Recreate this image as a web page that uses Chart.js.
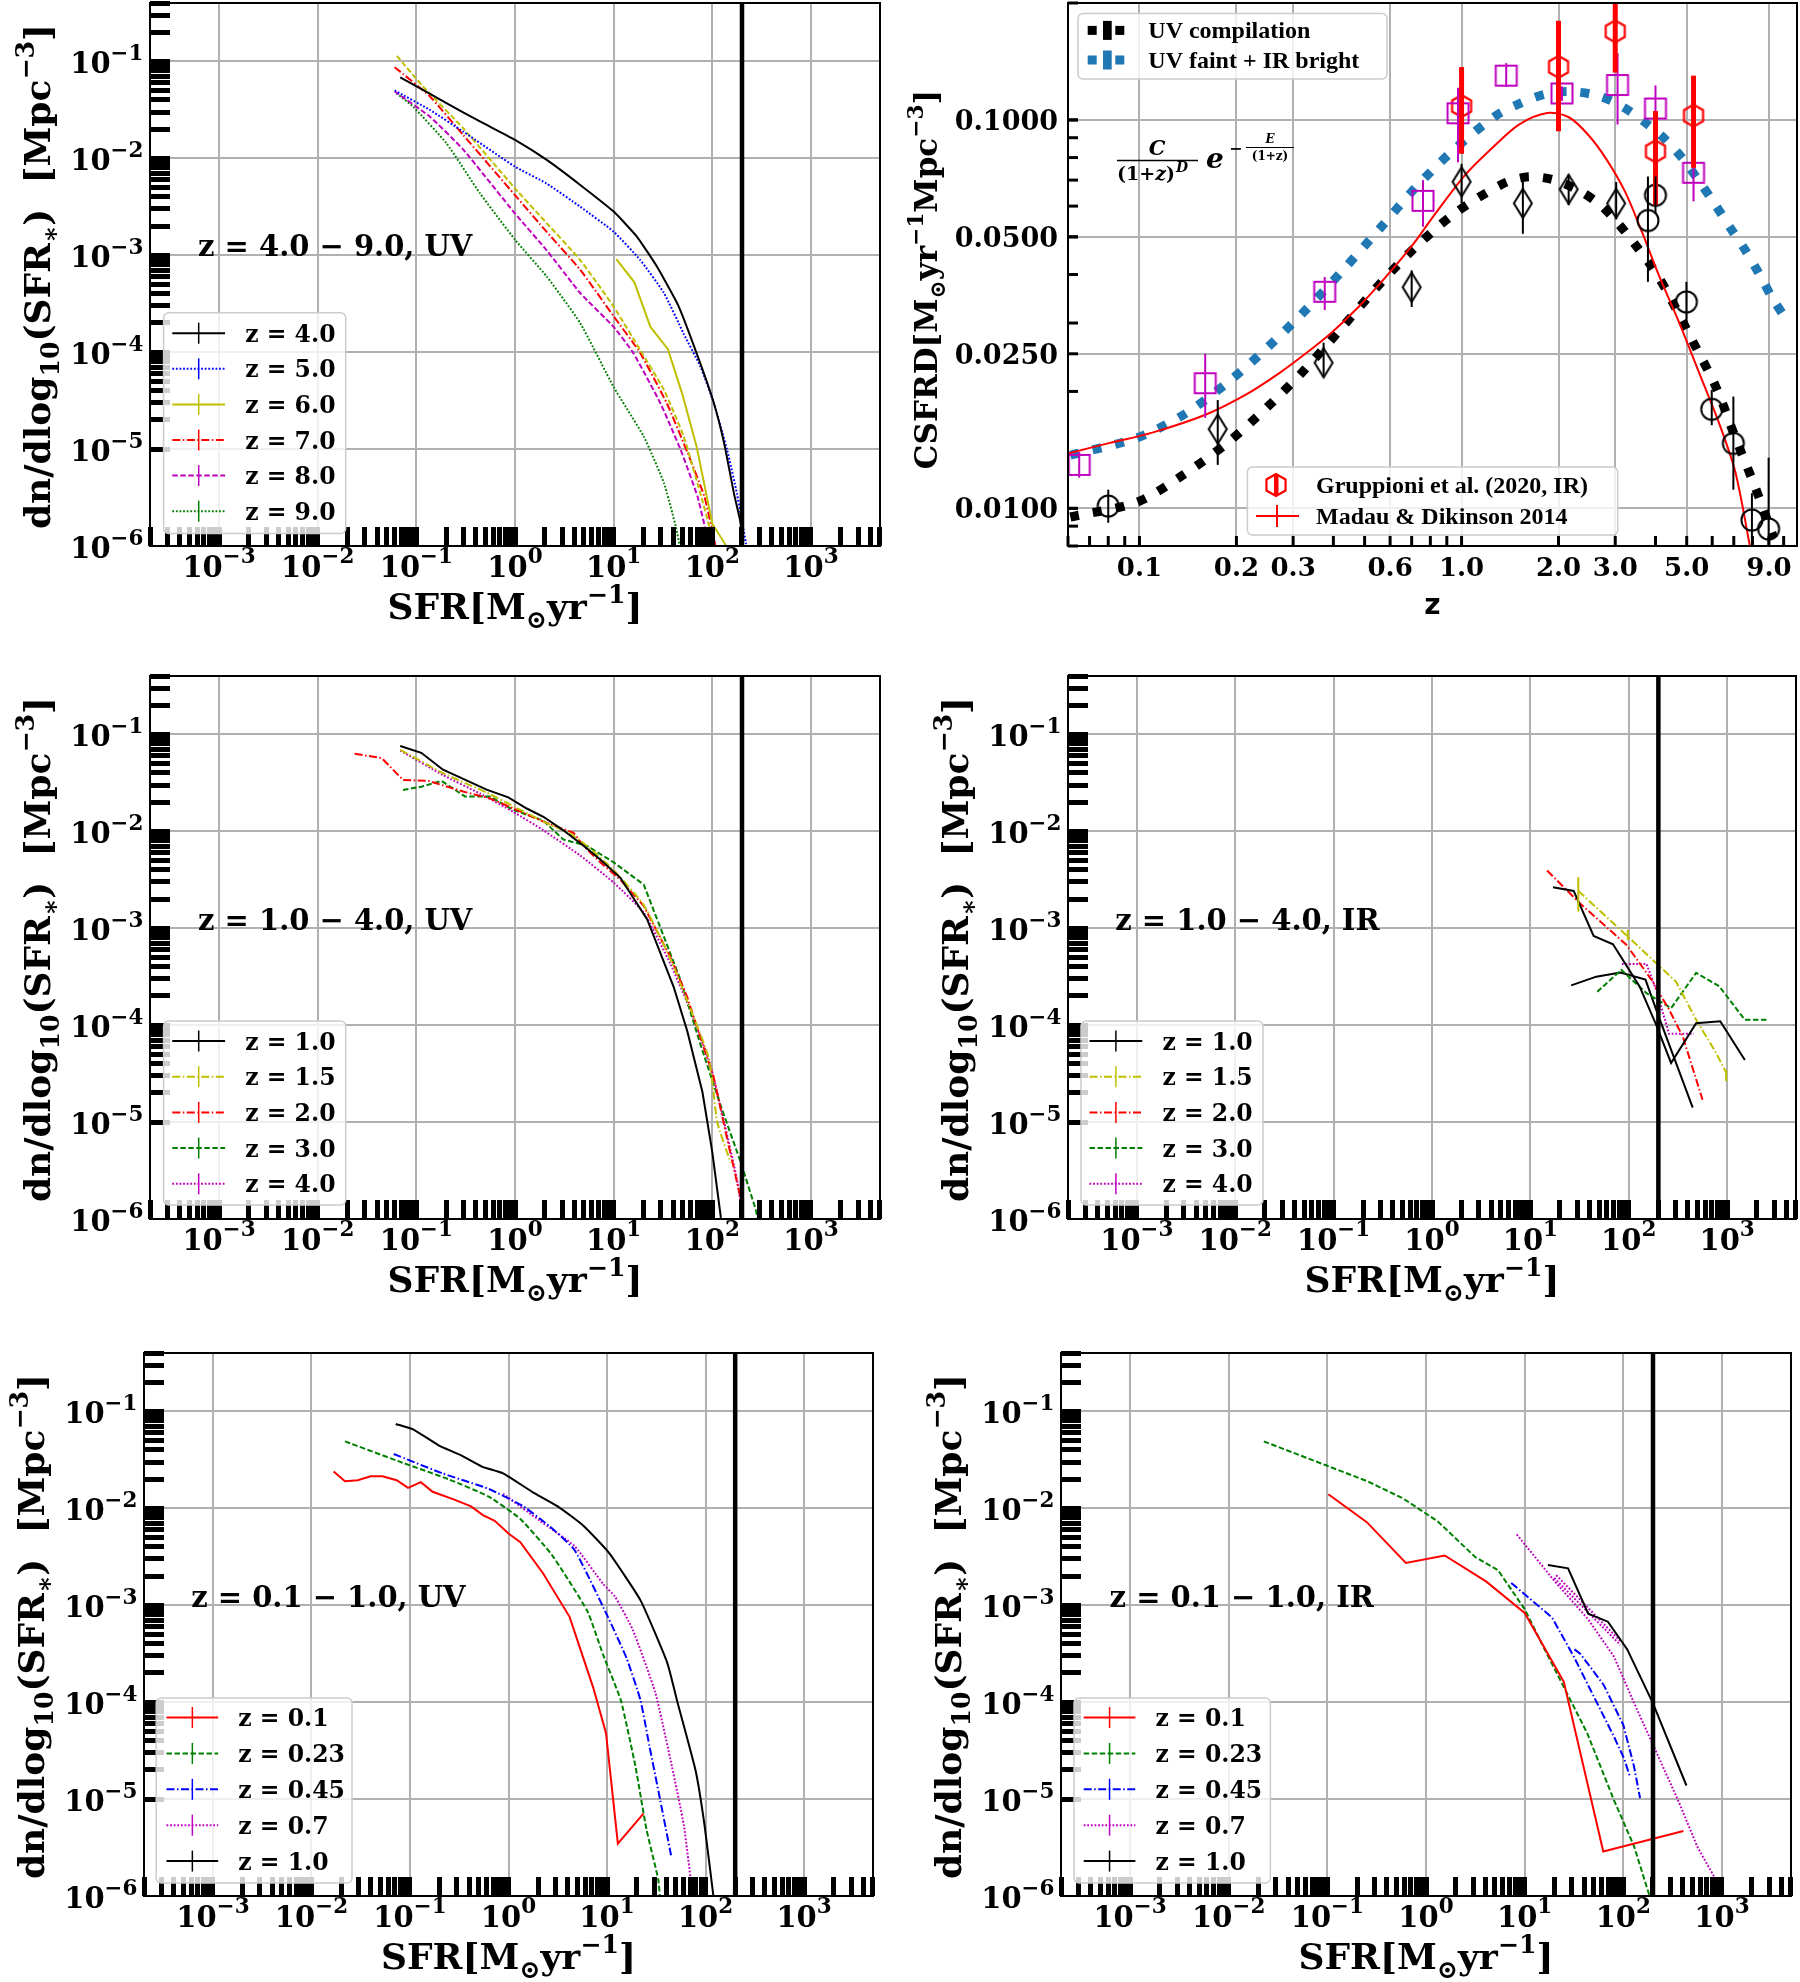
<!DOCTYPE html>
<html>
<head>
<meta charset="utf-8">
<title>SFR functions and cosmic SFR density</title>
<script src="https://cdn.jsdelivr.net/npm/chart.js@4.4.1/dist/chart.umd.min.js"></script>
<style>
  body { margin: 0; background: #fff; }
  #page { position: relative; width: 1800px; height: 1982px; overflow: hidden; background: #fff; }
  canvas { position: absolute; }
</style>
</head>
<body>
<div id="page">
  <canvas id="p1" width="900" height="660" style="left:0px;top:0px"></canvas>
  <canvas id="p2" width="900" height="660" style="left:900px;top:0px"></canvas>
  <canvas id="p3" width="900" height="660" style="left:0px;top:660px"></canvas>
  <canvas id="p4" width="900" height="660" style="left:900px;top:660px"></canvas>
  <canvas id="p5" width="900" height="662" style="left:0px;top:1320px"></canvas>
  <canvas id="p6" width="900" height="662" style="left:900px;top:1320px"></canvas>
</div>
<script>
// ---- SFR function panels: points as [log10 SFR, log10 dn/dlog10 SFR] ----
const sfrDecades = [-3, -2, -1, 0, 1, 2, 3];
const nDecades = [-6, -5, -4, -3, -2, -1];
const sfrCut = 200;

// z = 4.0 - 9.0, UV
const uvHigh_z4 = [[-1.163,-1.164],[-0.695,-1.43],[-0.356,-1.62],[0,-1.81],[0.322,-2.017],[0.661,-2.275],[1.0,-2.55],[1.237,-2.81],[1.44,-3.12],[1.66,-3.53],[1.88,-4.12],[2.017,-4.53],[2.12,-4.94],[2.22,-5.46],[2.295,-5.8],[2.32,-6.1]];
const uvHigh_z5 = [[-1.22,-1.3],[-0.864,-1.5],[-0.525,-1.725],[0,-2.086],[0.32,-2.26],[0.661,-2.5],[1.0,-2.757],[1.27,-3.05],[1.51,-3.39],[1.71,-3.81],[1.88,-4.15],[2.017,-4.53],[2.15,-5.01],[2.25,-5.46],[2.34,-5.97],[2.35,-6.1]];
const uvHigh_z6 = [[1.027,-3.04],[1.21,-3.28],[1.373,-3.74],[1.55,-3.97],[1.695,-4.43],[1.84,-4.97],[2.0,-5.77],[2.136,-5.99],[2.16,-6.1]];
const uvHigh_z6b = [[-1.197,-0.944],[-0.932,-1.26],[-0.525,-1.69],[0,-2.31],[0.322,-2.67],[0.661,-3.05],[1.0,-3.53],[1.27,-3.98],[1.51,-4.39],[1.71,-4.87],[1.88,-5.46],[1.97,-5.8],[2.02,-6.05]];
const uvHigh_z7 = [[-1.22,-1.06],[-0.864,-1.36],[-0.525,-1.76],[0,-2.38],[0.322,-2.76],[0.661,-3.15],[1.0,-3.63],[1.27,-4.01],[1.54,-4.53],[1.75,-5.04],[1.92,-5.49],[2.02,-5.94],[2.04,-6.05]];
const uvHigh_z8 = [[-1.22,-1.31],[-0.864,-1.57],[-0.525,-1.91],[0,-2.57],[0.322,-2.95],[0.661,-3.39],[1.0,-3.74],[1.2,-4.01],[1.475,-4.53],[1.68,-5.01],[1.85,-5.49],[1.97,-6.0],[1.98,-6.05]];
const uvHigh_z9 = [[-1.2,-1.33],[-1.03,-1.47],[-0.695,-1.845],[-0.356,-2.36],[0,-2.84],[0.322,-3.22],[0.661,-3.7],[1.0,-4.36],[1.305,-4.87],[1.51,-5.35],[1.63,-5.8],[1.68,-6.05]];

// z = 1.0 - 4.0, UV
const uvMid_z10 = [[-1.163,-1.12],[-0.95,-1.19],[-0.73,-1.365],[-0.525,-1.46],[-0.288,-1.57],[-0.068,-1.65],[0.119,-1.765],[0.288,-1.85],[0.49,-1.99],[0.695,-2.15],[0.864,-2.29],[1.068,-2.48],[1.34,-2.91],[1.61,-3.61],[1.746,-4.06],[1.9,-4.69],[2.0,-5.31],[2.085,-5.97],[2.09,-6.05]];
const uvMid_z15 = [[-1.163,-1.16],[-0.73,-1.4],[-0.288,-1.6],[0,-1.75],[0.288,-1.9],[0.55,-2.02],[0.73,-2.15],[1.0,-2.4],[1.305,-2.76],[1.576,-3.32],[1.746,-3.75],[1.966,-4.34],[2.05,-5.0],[2.186,-5.42]];
const uvMid_z20 = [[-1.625,-1.2],[-1.351,-1.245],[-1.135,-1.47],[-0.88,-1.48],[-0.525,-1.59],[-0.254,-1.66],[-0.017,-1.765],[0.288,-1.9],[0.593,-2.016],[0.695,-2.15],[0.864,-2.32],[1.068,-2.5],[1.305,-2.77],[1.576,-3.3],[1.746,-3.71],[1.88,-4.13],[2.017,-4.55],[2.15,-5.17],[2.29,-5.8],[2.315,-6.05]];
const uvMid_z30 = [[-1.135,-1.574],[-0.95,-1.54],[-0.746,-1.48],[-0.508,-1.64],[-0.254,-1.64],[-0.017,-1.78],[0.288,-1.89],[0.49,-2.085],[0.73,-2.15],[1.0,-2.32],[1.305,-2.55],[1.51,-3.09],[1.68,-3.54],[1.88,-4.2],[2.085,-4.83],[2.29,-5.42],[2.44,-5.9],[2.47,-6.05]];
const uvMid_z40 = [[-1.163,-1.167],[-0.73,-1.42],[-0.356,-1.61],[-0.017,-1.8],[0.288,-1.99],[0.661,-2.25],[1.0,-2.53],[1.305,-2.84],[1.576,-3.37],[1.78,-3.85],[1.98,-4.41],[2.12,-5.0],[2.25,-5.59],[2.305,-5.97],[2.31,-6.05]];

// z = 1.0 - 4.0, IR
const irMid_z10a = [[1.23,-2.577],[1.44,-2.615],[1.643,-3.08],[1.84,-3.165],[2.11,-3.6],[2.28,-4.0],[2.43,-4.39],[2.685,-3.98],[2.93,-3.96],[3.18,-4.36]];
const irMid_z10b = [[1.415,-3.59],[1.67,-3.5],[1.915,-3.456],[2.17,-3.53],[2.3,-3.9],[2.65,-4.85]];
const irMid_z15 = [[1.487,-2.615],[1.99,-3.086],[2.296,-3.378],[2.48,-3.55],[2.685,-3.945],[2.89,-4.29],[2.99,-4.49]];
const irMid_z15_lo = [-2.828,-3.12,null,null,null,null,-4.58];
const irMid_z15_hi = [-2.474,-3.017,null,null,null,null,-4.46];
const irMid_z20 = [[1.17,-2.405],[1.5,-2.74],[1.975,-3.17],[2.23,-3.53],[2.41,-3.84],[2.55,-4.12],[2.75,-4.77]];
const irMid_z30 = [[1.68,-3.656],[1.924,-3.43],[2.18,-3.67],[2.43,-3.825],[2.685,-3.46],[2.92,-3.6],[3.18,-3.945],[3.41,-3.945]];
const irMid_z40 = [[1.93,-3.368],[2.18,-3.368],[2.28,-3.64],[2.41,-4.09],[2.66,-4.09]];

// z = 0.1 - 1.0, UV
const uvLow_z01 = [[-1.775,-1.62],[-1.66,-1.72],[-1.53,-1.71],[-1.4,-1.67],[-1.28,-1.67],[-1.135,-1.71],[-1.02,-1.79],[-0.89,-1.73],[-0.77,-1.83],[-0.55,-1.91],[-0.38,-1.98],[-0.26,-2.07],[-0.14,-2.13],[0,-2.26],[0.12,-2.35],[0.35,-2.67],[0.62,-3.12],[0.86,-3.85],[0.99,-4.32],[1.11,-5.46],[1.37,-5.15]];
const uvLow_z023 = [[-1.66,-1.31],[-1.075,-1.53],[-0.61,-1.7],[-0.2,-1.88],[0.12,-2.11],[0.44,-2.48],[0.8,-3.06],[0.96,-3.51],[1.14,-3.98],[1.29,-4.67],[1.4,-5.31],[1.52,-5.83],[1.54,-6.05]];
const uvLow_z045 = [[-1.165,-1.44],[-0.67,-1.64],[-0.2,-1.8],[0.15,-1.98],[0.41,-2.18],[0.67,-2.43],[0.99,-3.08],[1.2,-3.55],[1.34,-3.98],[1.43,-4.45],[1.54,-5.01],[1.65,-5.58]];
const uvLow_z07 = [[-0.055,-1.85],[0.32,-2.13],[0.67,-2.39],[0.96,-2.78],[1.08,-2.91],[1.26,-3.25],[1.49,-3.9],[1.66,-4.67],[1.78,-5.27],[1.87,-6.0],[1.88,-6.05]];
const uvLow_z10 = [[-1.145,-1.13],[-0.96,-1.19],[-0.71,-1.35],[-0.49,-1.45],[-0.27,-1.57],[-0.055,-1.64],[0.24,-1.83],[0.5,-1.98],[0.76,-2.18],[1.02,-2.46],[1.34,-2.95],[1.61,-3.59],[1.72,-4.02],[1.9,-4.71],[1.99,-5.27],[2.08,-6.0],[2.09,-6.05]];

// z = 0.1 - 1.0, IR
const irLow_z01 = [[-0.99,-1.855],[-0.6,-2.143],[-0.204,-2.564],[0.19,-2.487],[0.612,-2.757],[1.0,-3.08],[1.397,-3.79],[1.797,-5.54],[2.61,-5.33]];
const irLow_z023 = [[-1.644,-1.31],[-1.02,-1.554],[-0.583,-1.726],[-0.233,-1.898],[0.117,-2.134],[0.496,-2.5],[0.729,-2.637],[1.0,-3.04],[1.19,-3.43],[1.43,-3.91],[1.634,-4.32],[1.905,-5.01],[2.11,-5.49],[2.26,-5.98],[2.27,-6.05]];
const irLow_z045a = [[0.864,-2.77],[1.278,-3.127],[1.498,-3.53],[1.7,-3.94],[1.905,-4.355],[2.007,-4.58],[2.068,-4.77]];
const irLow_z045b = [[1.505,-3.456],[1.566,-3.504],[1.8,-3.82],[2.0,-4.235],[2.108,-4.66],[2.17,-4.99]];
const irLow_z07 = [[0.92,-2.27],[1.31,-2.76],[1.64,-3.14],[1.905,-3.53],[2.11,-4.01],[2.31,-4.46],[2.55,-5.0],[2.75,-5.49],[2.92,-5.8]];
const irLow_z07b = [[1.3,-2.72],[1.97,-3.41]];
const irLow_z07c = [[1.32,-2.69],[1.98,-3.38]];
const irLow_z10 = [[1.236,-2.585],[1.44,-2.62],[1.644,-3.088],[1.844,-3.17],[2.04,-3.456],[2.3,-4.01],[2.64,-4.86]];

// ---- cosmic SFR density panel (z, CSFRD in Msun/yr/Mpc^3) ----
const zTicks = [0.1, 0.2, 0.3, 0.6, 1.0, 2.0, 3.0, 5.0, 9.0];
const zTickLabels = ['0.1', '0.2', '0.3', '0.6', '1.0', '2.0', '3.0', '5.0', '9.0'];
const rateTicks = [0.01, 0.025, 0.05, 0.1];
const rateTickLabels = ['0.0100', '0.0250', '0.0500', '0.1000'];

const uvCompZ = [0.061, 0.0984, 0.1361, 0.187, 0.2489, 0.3258, 0.4227, 0.5458, 0.7096, 0.9528, 1.33, 1.589, 1.91, 2.307, 2.698, 3.09, 3.475, 3.9, 4.315, 5.188, 6.166, 7.08, 8.17, 9.31];
const uvCompRate = [0.0095, 0.01038, 0.01216, 0.01472, 0.0182, 0.02275, 0.02904, 0.03707, 0.04656, 0.0575, 0.0682, 0.0713, 0.0703, 0.0659, 0.0604, 0.0537, 0.0475, 0.0418, 0.0365, 0.0272, 0.0205, 0.0152, 0.0113, 0.0084];
const uvIrZ = [0.061, 0.0984, 0.1371, 0.1879, 0.2518, 0.3327, 0.4335, 0.5585, 0.7211, 0.9462, 1.279, 1.524, 1.811, 2.163, 2.667, 3.206, 3.707, 4.276, 4.864, 5.47, 6.166, 6.823, 7.6, 8.356, 9.183, 10.3];
const uvIrRate = [0.0137, 0.0152, 0.01742, 0.02109, 0.02612, 0.0328, 0.0415, 0.0526, 0.0671, 0.0838, 0.1026, 0.1104, 0.1164, 0.1183, 0.1153, 0.1074, 0.0986, 0.0893, 0.0794, 0.0695, 0.0601, 0.0528, 0.0462, 0.0404, 0.035, 0.0302];
const mdZ = [0.0604, 0.0804, 0.1096, 0.1603, 0.2133, 0.2704, 0.3273, 0.3954, 0.4786, 0.5794, 0.6998, 0.8279, 1.028, 1.245, 1.507, 1.845, 2.153, 2.483, 2.831, 3.228, 3.631, 4.093, 4.721, 5.445, 6.281, 7.079, 7.9];
const mdRate = [0.01387, 0.01472, 0.01567, 0.01742, 0.01959, 0.02223, 0.025, 0.02838, 0.033, 0.03926, 0.0473, 0.0573, 0.0723, 0.0847, 0.0973, 0.1042, 0.1016, 0.0912, 0.0787, 0.065, 0.0515, 0.0399, 0.0303, 0.0225, 0.0167, 0.0124, 0.0078];

const sqZ = [0.065, 0.16, 0.376, 0.759, 0.975, 1.376, 2.05, 3.05, 4.0, 5.25];
const sqRate = [0.01294, 0.021, 0.0361, 0.0619, 0.104, 0.13, 0.117, 0.123, 0.107, 0.0731];
const sqLo = [0.012, 0.0171, 0.0324, 0.0531, 0.0778, 0.1216, 0.112, 0.0973, 0.0962, 0.0617];
const sqHi = [0.01396, 0.025, 0.0394, 0.07, 0.121, 0.14, 0.122, 0.1486, 0.1227, 0.0893];
const grZ = [1.0, 2.0, 3.0, 4.0, 5.25];
const grRate = [0.1086, 0.137, 0.169, 0.083, 0.1026];
const grLo = [0.0818, 0.0935, 0.1324, 0.0604, 0.0753];
const grHi = [0.1368, 0.18, 0.25, 0.1054, 0.13];
const dmZ = [0.175, 0.373, 0.7, 1.0, 1.55, 2.15, 3.02];
const dmRate = [0.016, 0.0237, 0.0371, 0.0693, 0.061, 0.0663, 0.061];
const dmLo = [0.01294, 0.0218, 0.033, 0.061, 0.0509, 0.0604, 0.0555];
const dmHi = [0.019, 0.0267, 0.041, 0.0771, 0.0692, 0.0723, 0.0692];
const ciZ = [0.08, 3.79, 4.0, 4.99, 5.98, 6.98, 7.97, 8.98];
const ciRate = [0.01014, 0.0551, 0.064, 0.034, 0.018, 0.0147, 0.00933, 0.00885];
const ciLo = [0.00918, 0.0383, 0.0573, 0.0293, 0.01637, 0.01117, 0.00794, 0.007];
const ciHi = [0.01117, 0.0715, 0.0715, 0.0383, 0.0202, 0.0194, 0.01094, 0.0135];

// ---- text ----
const sfrTitle = [['SFR[M', 0], ['\u2299', -1], ['yr', 0], ['\u22121', 1], [']', 0]];
const nTitle = [['dn/dlog', 0], ['10', -1], ['(SFR', 0], ['\u2217', -1], [')  [Mpc', 0], ['\u22123', 1], [']', 0]];
const rateTitle = [['CSFRD[M', 0], ['\u2299', -1], ['yr', 0], ['\u22121', 1], ['Mpc', 0], ['\u22123', 1], [']', 0]];

const K = '#000000', B = '#0000ff', Y = '#bfbf00', R = '#ff0000', M = '#bf00bf', G = '#008000', TAB = '#1f77b4';
const SOLID = [], DOTTED = [1.8, 1.8], DASHED = [5.5, 2.5], DASHDOT = [8, 2.5, 1.5, 2.5];
const SERIF = '"DejaVu Serif"';

function font(size, style) {
    return (style || 'bold') + ' ' + size + 'px ' + SERIF;
}

function fromLog(arr) {
    return arr.map(([lx, ly]) => ({ x: 10 ** lx, y: 10 ** ly }));
}

function xy(xs, ys) {
    return xs.map((x, i) => ({ x: x, y: ys[i] }));
}

function seg(ctx, x0, y0, x1, y1) {
    ctx.beginPath();
    ctx.moveTo(x0, y0);
    ctx.lineTo(x1, y1);
    ctx.stroke();
}

// text with super/subscripts, pos: 1 sup, -1 sub
function rich(ctx, parts, size, x, y, align, angle, small) {
    const k = small || 0.7;
    const runs = parts.map(([text, pos]) => {
        const s = pos ? size * k : size;
        ctx.font = font(s);
        return { text: text, s: s, w: ctx.measureText(text).width, dy: pos > 0 ? -size * 0.45 : pos < 0 ? size * 0.25 : 0 };
    });
    const total = runs.reduce((t, r) => t + r.w, 0);
    ctx.save();
    ctx.translate(x, y);
    if (angle) ctx.rotate(angle);
    ctx.textAlign = 'left';
    ctx.textBaseline = 'alphabetic';
    ctx.fillStyle = '#000';
    let cx = align === 'center' ? -total / 2 : align === 'right' ? -total : 0;
    runs.forEach(r => {
        ctx.font = font(r.s);
        ctx.fillText(r.text, cx, r.dy);
        cx += r.w;
    });
    ctx.restore();
}

function legendBox(ctx, [x0, y0, x1, y1]) {
    const r = 5;
    ctx.beginPath();
    ctx.moveTo(x0 + r, y0);
    ctx.arcTo(x1, y0, x1, y1, r);
    ctx.arcTo(x1, y1, x0, y1, r);
    ctx.arcTo(x0, y1, x0, y0, r);
    ctx.arcTo(x0, y0, x1, y0, r);
    ctx.closePath();
    ctx.fillStyle = 'rgba(255,255,255,0.8)';
    ctx.fill();
    ctx.strokeStyle = '#cccccc';
    ctx.lineWidth = 1.5;
    ctx.stroke();
}

function markerCanvas(w, h, paint) {
    const c = document.createElement('canvas');
    c.width = w;
    c.height = h;
    paint(c.getContext('2d'), w / 2, h / 2);
    return c;
}

const hexMark = markerCanvas(26, 28, (g, cx, cy) => {
    g.strokeStyle = R; g.lineWidth = 2.2; g.beginPath();
    for (let k = 0; k < 6; k++) {
        const t = Math.PI / 2 + k * Math.PI / 3;
        g.lineTo(cx + 11 * Math.cos(t), cy - 11 * Math.sin(t));
    }
    g.closePath(); g.stroke();
});
const squareMark = markerCanvas(26, 26, (g, cx, cy) => {
    g.strokeStyle = M; g.lineWidth = 2; g.strokeRect(cx - 10.5, cy - 10, 21, 20);
});
const circleMark = markerCanvas(26, 26, (g, cx, cy) => {
    g.strokeStyle = K; g.lineWidth = 2; g.beginPath(); g.arc(cx, cy, 10.5, 0, 2 * Math.PI); g.stroke();
});
const diamondMark = markerCanvas(24, 34, (g, cx, cy) => {
    g.strokeStyle = K; g.lineWidth = 2; g.beginPath();
    g.moveTo(cx, cy - 14.5); g.lineTo(cx + 9, cy); g.lineTo(cx, cy + 14.5); g.lineTo(cx - 9, cy);
    g.closePath(); g.stroke();
});

// per-canvas layout (page coordinates)
const panelExtras = {
    p1: { kind: 'sfr', ox: 0, oy: 0, w: 900, h: 660, area: [150, 3, 880, 546], ytx: 50,
          legend: { box: [163.6, 312.8, 345.7, 533.5], y0: 333.2, pitch: 35.6, x0: 172.3, x1: 225.1, tx: 245.2 },
          note: ['z = 4.0 \u2212 9.0, UV', 198, 256] },
    p2: { kind: 'csfrd', ox: 900, oy: 0, w: 900, h: 660, area: [1068, 3, 1797, 546], ytx: 937 },
    p3: { kind: 'sfr', ox: 0, oy: 660, w: 900, h: 660, area: [150, 676, 880, 1219], ytx: 50,
          legend: { box: [163.6, 1021, 345.7, 1205], y0: 1041, pitch: 35.7, x0: 172.3, x1: 225.1, tx: 245.2 },
          note: ['z = 1.0 \u2212 4.0, UV', 198, 930] },
    p4: { kind: 'sfr', ox: 900, oy: 660, w: 900, h: 660, area: [1068, 676, 1796, 1219], ytx: 968,
          legend: { box: [1081, 1021, 1263, 1205], y0: 1041, pitch: 35.7, x0: 1089.5, x1: 1142.3, tx: 1162.4 },
          note: ['z = 1.0 \u2212 4.0, IR', 1115.3, 930] },
    p5: { kind: 'sfr', ox: 0, oy: 1320, w: 900, h: 662, area: [144, 1353, 873, 1896], ytx: 44,
          legend: { box: [156.2, 1698, 352, 1883], y0: 1717.5, pitch: 35.9, x0: 166.5, x1: 218.2, tx: 238.3 },
          note: ['z = 0.1 \u2212 1.0, UV', 191.2, 1607] },
    p6: { kind: 'sfr', ox: 900, oy: 1320, w: 900, h: 662, area: [1061, 1353, 1791, 1896], ytx: 961,
          legend: { box: [1074, 1698, 1270.4, 1883], y0: 1717.5, pitch: 35.9, x0: 1083.7, x1: 1135.4, tx: 1155.5 },
          note: ['z = 0.1 \u2212 1.0, IR', 1109.6, 1607] }
};

function expLabel(e) {
    return [['10', 0], [e < 0 ? '\u2212' + (-e) : String(e), 1]];
}

function drawSfrDecor(chart, p) {
    const ctx = chart.ctx, a = chart.chartArea, xs = chart.scales.x, ys = chart.scales.y;
    // rug of minor ticks, pointing inwards
    ctx.fillStyle = '#000';
    for (let e = -5; e <= 4; e++) {
        for (let m = 1; m <= 9; m++) {
            const v = m * 10 ** e;
            if (v >= xs.min && v <= xs.max) {
                const x = Math.round(xs.getPixelForValue(v) - 2.5);
                ctx.fillRect(x, a.bottom - 19, 5, 19);
            }
            if (v >= ys.min && v <= ys.max) {
                const y = Math.round(ys.getPixelForValue(v) - 2.5);
                ctx.fillRect(a.left, y, 20, 5);
            }
        }
    }
    ctx.strokeStyle = '#000';
    ctx.lineWidth = 2;
    ctx.strokeRect(a.left, a.top, a.right - a.left, a.bottom - a.top);

    sfrDecades.forEach(e => rich(ctx, expLabel(e), 29, xs.getPixelForValue(10 ** e), a.bottom + 30.5, 'center', 0, 0.74));
    nDecades.forEach(e => rich(ctx, expLabel(e), 29, a.left - 6.5, ys.getPixelForValue(10 ** e) + 12, 'right', 0, 0.74));
    rich(ctx, sfrTitle, 36, (a.left + a.right) / 2, a.bottom + 73, 'center');
    rich(ctx, nTitle, 36, p.ytx - p.ox, (a.top + a.bottom) / 2 + 2, 'center', -Math.PI / 2);

    ctx.save();
    ctx.translate(-p.ox, -p.oy);
    const L = p.legend;
    legendBox(ctx, L.box);
    chart.data.datasets.filter(d => d.label).forEach((d, i) => {
        const y = L.y0 + i * L.pitch;
        ctx.strokeStyle = d.borderColor;
        ctx.lineWidth = 2;
        ctx.setLineDash(d.borderDash);
        seg(ctx, L.x0, y, L.x1, y);
        ctx.setLineDash([]);
        ctx.lineWidth = 1.5;
        const mx = (L.x0 + L.x1) / 2;
        seg(ctx, mx, y - 10.5, mx, y + 10.5);
        ctx.fillStyle = '#000';
        ctx.font = font(23.5);
        ctx.textAlign = 'left';
        ctx.fillText(d.label, L.tx, y + 8.5);
    });
    ctx.font = font(29);
    ctx.fillStyle = '#000';
    ctx.fillText(p.note[0], p.note[1], p.note[2]);
    ctx.restore();
}

function drawRateDecor(chart, p) {
    const ctx = chart.ctx, a = chart.chartArea, xs = chart.scales.x, ys = chart.scales.y;
    ctx.strokeStyle = '#000';
    ctx.lineWidth = 3;
    for (let e = -3; e <= 1; e++) {
        for (let m = 1; m <= 9; m++) {
            const v = m * 10 ** e;
            if (v >= xs.min && v <= xs.max) {
                const x = xs.getPixelForValue(v);
                seg(ctx, x, a.bottom, x, a.bottom - 10);
            }
            if (v >= ys.min && v <= ys.max) {
                const y = ys.getPixelForValue(v);
                seg(ctx, a.left, y, a.left + 10, y);
            }
        }
    }
    rateTicks.forEach(v => { const y = ys.getPixelForValue(v); seg(ctx, a.left, y, a.left + 10, y); });
    ctx.lineWidth = 2;
    ctx.strokeRect(a.left, a.top, a.right - a.left, a.bottom - a.top);

    ctx.fillStyle = '#000';
    ctx.font = font(26);
    ctx.textAlign = 'center';
    zTicks.forEach((v, i) => ctx.fillText(zTickLabels[i], xs.getPixelForValue(v), a.bottom + 29.5));
    ctx.font = font(27);
    ctx.textAlign = 'right';
    rateTicks.forEach((v, i) => ctx.fillText(rateTickLabels[i], a.left - 10, ys.getPixelForValue(v) + 10));
    ctx.textAlign = 'center';
    ctx.font = 'bold 28px "DejaVu Sans"';
    ctx.fillText('z', (a.left + a.right) / 2, a.bottom + 68);
    rich(ctx, rateTitle, 31, p.ytx - p.ox, (a.top + a.bottom) / 2 + 5, 'center', -Math.PI / 2);

    ctx.save();
    ctx.translate(-p.ox, -p.oy);
    ctx.textAlign = 'left';
    // upper legend
    legendBox(ctx, [1078, 13.6, 1387, 79]);
    [[K, 'UV compilation', 30.4], [TAB, 'UV faint + IR bright', 60]].forEach(([c, t, y]) => {
        ctx.fillStyle = c;
        ctx.fillRect(1087.7, y - 4.5, 9, 9);
        ctx.fillRect(1115.3, y - 4.5, 9, 9);
        ctx.fillRect(1103, y - 9.5, 8.7, 19);
        ctx.fillStyle = '#000';
        ctx.font = 'bold 24px "Liberation Serif"';
        ctx.fillText(t, 1148.3, y + 8);
    });
    // lower legend
    legendBox(ctx, [1247.4, 467, 1617.7, 535]);
    ctx.drawImage(hexMark, 1276 - 13, 485 - 14);
    ctx.fillStyle = R;
    ctx.fillRect(1274, 475, 4.5, 20);
    ctx.strokeStyle = R;
    ctx.lineWidth = 2;
    seg(ctx, 1256, 516, 1299, 516);
    seg(ctx, 1277, 505, 1277, 527);
    ctx.fillStyle = '#000';
    ctx.font = 'bold 24px "Liberation Serif"';
    ctx.fillText('Gruppioni et al. (2020, IR)', 1316, 493);
    ctx.fillText('Madau & Dikinson 2014', 1316, 524);
    // fitting formula
    ctx.textAlign = 'center';
    ctx.font = font(21, 'bold italic');
    ctx.fillText('C', 1157, 155);
    ctx.lineWidth = 1.5;
    ctx.strokeStyle = '#000';
    seg(ctx, 1117, 160.5, 1198, 160.5);
    ctx.textAlign = 'left';
    let x = 1117;
    [['(1+', font(19)], ['z', font(19, 'bold italic')], [')', font(19)]].forEach(([t, f]) => {
        ctx.font = f; ctx.fillText(t, x, 180); x += ctx.measureText(t).width;
    });
    ctx.font = font(14, 'bold italic');
    ctx.fillText('D', x + 1, 172);
    ctx.font = font(28, 'bold italic');
    ctx.fillText('e', 1206, 168);
    ctx.font = font(16);
    ctx.fillText('\u2212', 1229, 154);
    ctx.textAlign = 'center';
    ctx.font = font(12, 'bold italic');
    ctx.fillText('E', 1270, 143);
    ctx.lineWidth = 1;
    seg(ctx, 1246, 147.5, 1294, 147.5);
    ctx.font = font(12);
    ctx.fillText('(1+z)', 1270, 160);
    ctx.restore();
}

const decor = {
    id: 'decor',
    afterDatasetsDraw(chart) {
        const p = panelExtras[chart.canvas.id];
        const ctx = chart.ctx, a = chart.chartArea, xs = chart.scales.x, ys = chart.scales.y;
        ctx.save();
        ctx.beginPath();
        ctx.rect(a.left, a.top, a.right - a.left, a.bottom - a.top);
        ctx.clip();
        if (p.kind === 'sfr') {
            const x = xs.getPixelForValue(sfrCut);
            ctx.strokeStyle = '#000';
            ctx.lineWidth = 4.5;
            seg(ctx, x, a.top, x, a.bottom);
        }
        (p.errors || []).forEach(e => {
            const pts = chart.data.datasets[e.ds].data;
            ctx.strokeStyle = e.color;
            ctx.lineWidth = e.width;
            pts.forEach((pt, i) => {
                if (e.lo[i] == null) return;
                const x = xs.getPixelForValue(pt.x);
                seg(ctx, x, ys.getPixelForValue(e.lo[i]), x, ys.getPixelForValue(e.hi[i]));
            });
        });
        ctx.restore();
        ctx.save();
        if (p.kind === 'sfr') drawSfrDecor(chart, p);
        else drawRateDecor(chart, p);
        ctx.restore();
    }
};

function logAxis(min, max, ticks, horizontal) {
    return {
        type: 'logarithmic',
        position: horizontal ? 'bottom' : 'left',
        min: min,
        max: max,
        ticks: { display: false },
        border: { display: false },
        grid: { color: '#b0b0b0', lineWidth: 2, drawTicks: false },
        afterBuildTicks: s => { s.ticks = ticks.map(v => ({ value: v })); },
        afterFit: s => { if (horizontal) s.height = 0; else s.width = 0; }
    };
}

function baseOptions(p, xAxis, yAxis) {
    return {
        responsive: false,
        animation: false,
        devicePixelRatio: 1,
        events: [],
        layout: {
            autoPadding: false,
            padding: {
                left: p.area[0] - p.ox,
                top: p.area[1] - p.oy,
                right: p.ox + p.w - p.area[2],
                bottom: p.oy + p.h - p.area[3]
            }
        },
        plugins: { legend: { display: false }, tooltip: { enabled: false } },
        scales: { x: xAxis, y: yAxis }
    };
}

function sfrChart(id, series) {
    const p = panelExtras[id];
    new Chart(document.getElementById(id), {
        type: 'line',
        data: {
            datasets: series.map(s => ({
                label: s.label,
                data: fromLog(s.pts),
                borderColor: s.color,
                borderWidth: 2,
                borderDash: s.dash,
                pointRadius: 0,
                tension: s.tension === undefined ? 0.15 : s.tension,
                fill: false
            }))
        },
        options: baseOptions(p,
            logAxis(10 ** -3.7, 10 ** 3.7, sfrDecades.map(e => 10 ** e), true),
            logAxis(1e-6, 0.4, nDecades.map(e => 10 ** e), false)),
        plugins: [decor]
    });
}

sfrChart('p1', [
    { label: 'z = 4.0', color: K, dash: SOLID, pts: uvHigh_z4 },
    { label: 'z = 5.0', color: B, dash: DOTTED, pts: uvHigh_z5 },
    { label: 'z = 6.0', color: Y, dash: SOLID, pts: uvHigh_z6, tension: 0 },
    { label: '', color: Y, dash: DASHED, pts: uvHigh_z6b },
    { label: 'z = 7.0', color: R, dash: DASHDOT, pts: uvHigh_z7 },
    { label: 'z = 8.0', color: M, dash: DASHED, pts: uvHigh_z8 },
    { label: 'z = 9.0', color: G, dash: DOTTED, pts: uvHigh_z9 }
]);

sfrChart('p3', [
    { label: 'z = 1.0', color: K, dash: SOLID, pts: uvMid_z10, tension: 0 },
    { label: 'z = 1.5', color: Y, dash: DASHDOT, pts: uvMid_z15 },
    { label: 'z = 2.0', color: R, dash: DASHDOT, pts: uvMid_z20, tension: 0 },
    { label: 'z = 3.0', color: G, dash: DASHED, pts: uvMid_z30, tension: 0 },
    { label: 'z = 4.0', color: M, dash: DOTTED, pts: uvMid_z40 }
]);

panelExtras.p4.errors = [{ ds: 1, color: Y, width: 2,
    lo: irMid_z15_lo.map(v => v === null ? null : 10 ** v),
    hi: irMid_z15_hi.map(v => v === null ? null : 10 ** v) }];
sfrChart('p4', [
    { label: 'z = 1.0', color: K, dash: SOLID, pts: irMid_z10a, tension: 0 },
    { label: 'z = 1.5', color: Y, dash: DASHDOT, pts: irMid_z15, tension: 0 },
    { label: 'z = 2.0', color: R, dash: DASHDOT, pts: irMid_z20, tension: 0 },
    { label: 'z = 3.0', color: G, dash: DASHED, pts: irMid_z30, tension: 0 },
    { label: 'z = 4.0', color: M, dash: DOTTED, pts: irMid_z40, tension: 0 },
    { label: '', color: K, dash: SOLID, pts: irMid_z10b, tension: 0 }
]);

sfrChart('p5', [
    { label: 'z = 0.1', color: R, dash: SOLID, pts: uvLow_z01, tension: 0 },
    { label: 'z = 0.23', color: G, dash: DASHED, pts: uvLow_z023 },
    { label: 'z = 0.45', color: B, dash: DASHDOT, pts: uvLow_z045 },
    { label: 'z = 0.7', color: M, dash: DOTTED, pts: uvLow_z07 },
    { label: 'z = 1.0', color: K, dash: SOLID, pts: uvLow_z10 }
]);

sfrChart('p6', [
    { label: 'z = 0.1', color: R, dash: SOLID, pts: irLow_z01, tension: 0 },
    { label: 'z = 0.23', color: G, dash: DASHED, pts: irLow_z023, tension: 0 },
    { label: 'z = 0.45', color: B, dash: DASHDOT, pts: irLow_z045a, tension: 0 },
    { label: 'z = 0.7', color: M, dash: DOTTED, pts: irLow_z07, tension: 0 },
    { label: 'z = 1.0', color: K, dash: SOLID, pts: irLow_z10, tension: 0 },
    { label: '', color: B, dash: DASHDOT, pts: irLow_z045b, tension: 0 },
    { label: '', color: M, dash: DOTTED, pts: irLow_z07b, tension: 0 },
    { label: '', color: M, dash: DOTTED, pts: irLow_z07c, tension: 0 }
]);

// CSFRD panel
panelExtras.p2.errors = [
    { ds: 0, lo: sqLo, hi: sqHi, color: M, width: 2 },
    { ds: 1, lo: grLo, hi: grHi, color: R, width: 5 },
    { ds: 2, lo: dmLo, hi: dmHi, color: K, width: 2 },
    { ds: 3, lo: ciLo, hi: ciHi, color: K, width: 2 }
];
new Chart(document.getElementById('p2'), {
    type: 'line',
    data: {
        datasets: [
            { label: 'squares', data: xy(sqZ, sqRate), showLine: false, pointStyle: squareMark, pointRadius: 10 },
            { label: 'Gruppioni et al. (2020, IR)', data: xy(grZ, grRate), showLine: false, pointStyle: hexMark, pointRadius: 10 },
            { label: 'diamonds', data: xy(dmZ, dmRate), showLine: false, pointStyle: diamondMark, pointRadius: 10 },
            { label: 'circles', data: xy(ciZ, ciRate), showLine: false, pointStyle: circleMark, pointRadius: 10 },
            { label: 'Madau & Dikinson 2014', data: xy(mdZ, mdRate), borderColor: R, borderWidth: 2, pointRadius: 0, tension: 0.3 },
            { label: 'UV compilation', data: xy(uvCompZ, uvCompRate), borderColor: K, borderWidth: 9, borderDash: [9, 14], borderCapStyle: 'butt', pointRadius: 0, tension: 0.3 },
            { label: 'UV faint + IR bright', data: xy(uvIrZ, uvIrRate), borderColor: TAB, borderWidth: 9, borderDash: [9, 14], borderCapStyle: 'butt', pointRadius: 0, tension: 0.3 }
        ]
    },
    options: baseOptions(panelExtras.p2,
        logAxis(0.06, 11, zTicks, true),
        logAxis(0.008, 0.2, rateTicks, false)),
    plugins: [decor]
});
</script>
</body>
</html>
